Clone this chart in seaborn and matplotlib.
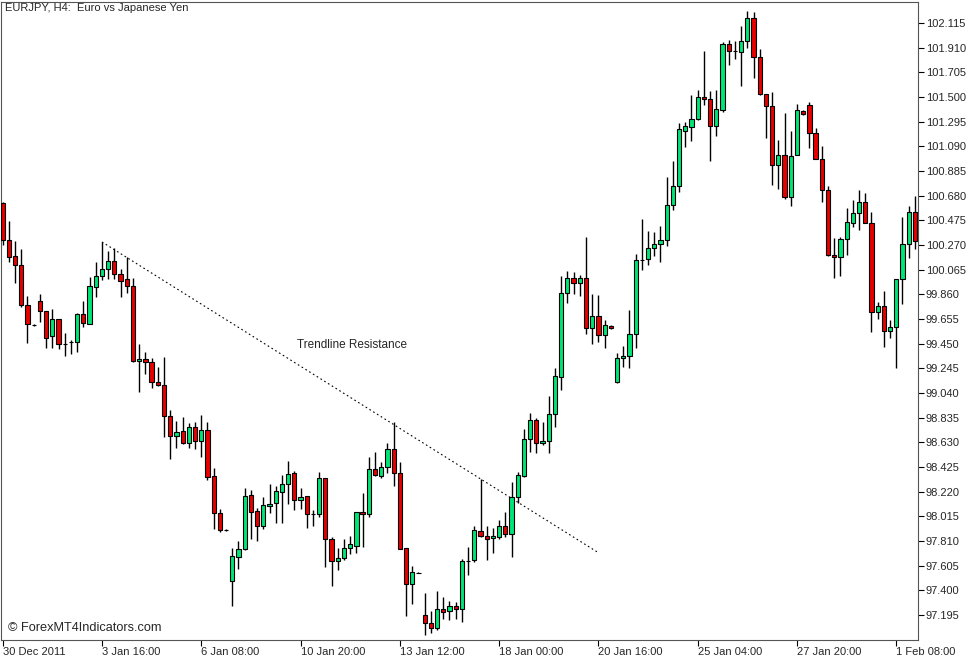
import numpy as np
import pandas as pd
import matplotlib
matplotlib.use('Agg')
import matplotlib.pyplot as plt
import seaborn as sns

# EURJPY H4 candles, 30 Dec 2011 -> 1 Feb 2012
opens = [100.619, 100.312, 100.179, 100.104, 99.771, 99.605, 99.805, 99.722, 99.515, 99.655,
         99.451, 99.460, 99.465, 99.697, 99.614, 99.921, 100.013, 100.071, 100.138, 100.030,
         99.988, 99.930, 99.309, 99.323, 99.298, 99.132, 99.107, 98.849, 98.683, 98.724,
         98.625, 98.758, 98.641, 98.733, 98.350, 98.043, 97.904, 97.478, 97.677, 97.744,
         98.192, 98.059, 97.934, 98.100, 98.125, 98.217, 98.283, 98.374, 98.150, 98.184,
         98.031, 98.034, 98.333, 97.827, 97.644, 97.669, 97.752, 97.769, 98.051, 98.034,
         98.408, 98.350, 98.425, 98.575, 98.375, 97.752, 97.453, 97.546, 97.195, 97.129,
         97.087, 97.245, 97.228, 97.270, 97.245, 97.646, 97.652, 97.893, 97.851, 97.835,
         97.843, 97.934, 97.868, 98.176, 98.350, 98.658, 98.816, 98.625, 98.641, 98.865,
         99.173, 99.871, 99.996, 99.954, 99.996, 99.581, 99.680, 99.522, 99.597, 99.131,
         99.331, 99.348, 99.531, 100.145, 100.154, 100.245, 100.278, 100.311, 100.602, 100.760,
         101.217, 101.251, 101.317, 101.500, 101.483, 101.259, 101.392, 101.940, 101.882, 101.874,
         101.965, 102.156, 101.832, 101.525, 101.425, 100.935, 101.018, 100.669, 101.018, 101.383,
         101.433, 101.201, 100.985, 100.727, 100.187, 100.170, 100.320, 100.453, 100.536, 100.627,
         100.453, 99.713, 99.763, 99.555, 99.589, 99.987, 100.278, 100.544]
highs = [100.630, 100.469, 100.303, 100.237, 99.846, 99.614, 99.863, 99.722, 99.738, 99.655,
         99.539, 99.476, 99.705, 99.805, 100.004, 100.129, 100.295, 100.221, 100.246, 100.071,
         100.171, 99.996, 99.448, 99.381, 99.332, 99.257, 99.340, 98.899, 98.808, 98.841,
         98.791, 98.800, 98.857, 98.800, 98.417, 98.076, 97.910, 97.752, 97.810, 98.251,
         98.234, 98.084, 98.175, 98.283, 98.267, 98.358, 98.474, 98.391, 98.250, 98.184,
         98.070, 98.383, 98.333, 97.843, 97.752, 97.827, 97.851, 98.051, 98.209, 98.508,
         98.549, 98.466, 98.624, 98.799, 98.466, 97.752, 97.602, 97.552, 97.378, 97.228,
         97.394, 97.345, 97.311, 97.303, 97.660, 97.762, 97.934, 98.325, 97.934, 97.918,
         97.984, 98.051, 98.300, 98.383, 98.740, 98.873, 98.832, 98.799, 99.015, 99.248,
         100.012, 100.054, 100.046, 100.021, 100.337, 99.863, 99.854, 99.647, 99.605, 99.373,
         99.431, 99.730, 100.195, 100.486, 100.386, 100.378, 100.428, 100.835, 100.968, 101.284,
         101.292, 101.516, 101.558, 101.882, 101.550, 101.558, 101.957, 101.974, 101.965, 102.090,
         102.215, 102.206, 101.899, 101.525, 101.541, 101.142, 101.367, 101.217, 101.442, 101.392,
         101.458, 101.242, 101.093, 100.760, 100.328, 100.337, 100.577, 100.644, 100.727, 100.702,
         100.544, 99.796, 99.888, 99.647, 99.987, 100.503, 100.594, 100.677]
lows = [100.270, 100.129, 99.954, 99.755, 99.456, 99.593, 99.630, 99.415, 99.415, 99.407,
        99.350, 99.364, 99.381, 99.589, 99.614, 99.838, 99.980, 99.988, 99.988, 99.838,
        99.871, 99.298, 99.049, 99.199, 99.082, 99.099, 98.675, 98.492, 98.583, 98.616,
        98.583, 98.575, 98.508, 98.317, 97.910, 97.885, 97.894, 97.270, 97.577, 97.735,
        97.827, 97.810, 97.910, 98.042, 97.959, 97.959, 98.117, 98.067, 98.075, 97.918,
        97.934, 98.009, 97.594, 97.435, 97.569, 97.652, 97.702, 97.710, 97.760, 98.009,
        98.350, 98.333, 98.375, 98.267, 97.744, 97.187, 97.286, 97.540, 97.029, 97.045,
        97.070, 97.162, 97.153, 97.162, 97.137, 97.527, 97.635, 97.843, 97.652, 97.710,
        97.826, 97.843, 97.677, 98.126, 98.342, 98.550, 98.541, 98.608, 98.541, 98.757,
        99.065, 99.788, 99.863, 99.846, 99.530, 99.448, 99.465, 99.415, 99.572, 99.123,
        99.257, 99.248, 99.414, 100.062, 100.104, 100.179, 100.129, 100.262, 100.561, 100.710,
        101.084, 101.134, 101.309, 101.433, 100.968, 101.176, 101.375, 101.766, 101.818, 101.591,
        101.907, 101.658, 101.517, 101.159, 100.769, 100.735, 100.652, 100.594, 101.018, 101.350,
        101.076, 100.985, 100.627, 100.178, 99.996, 100.012, 100.187, 100.420, 100.395, 100.453,
        99.547, 99.655, 99.422, 99.497, 99.248, 99.780, 100.162, 100.237]
closes = [100.312, 100.173, 100.104, 99.771, 99.614, 99.605, 99.722, 99.498, 99.655, 99.448,
          99.451, 99.460, 99.697, 99.622, 99.930, 100.013, 100.071, 100.138, 100.030, 99.971,
          99.930, 99.307, 99.323, 99.298, 99.132, 99.107, 98.849, 98.683, 98.716, 98.625,
          98.758, 98.641, 98.733, 98.342, 98.043, 97.902, 97.904, 97.686, 97.744, 98.184,
          98.051, 97.934, 98.109, 98.117, 98.225, 98.283, 98.366, 98.150, 98.175, 98.034,
          98.031, 98.333, 97.827, 97.644, 97.669, 97.752, 97.785, 98.051, 98.034, 98.408,
          98.358, 98.425, 98.575, 98.375, 97.744, 97.453, 97.552, 97.546, 97.129, 97.087,
          97.245, 97.220, 97.270, 97.245, 97.644, 97.646, 97.901, 97.851, 97.826, 97.851,
          97.934, 97.868, 98.176, 98.358, 98.658, 98.816, 98.625, 98.641, 98.865, 99.181,
          99.871, 99.996, 99.954, 99.996, 99.581, 99.680, 99.522, 99.605, 99.581, 99.331,
          99.348, 99.531, 100.145, 100.145, 100.245, 100.278, 100.311, 100.602, 100.760, 101.234,
          101.259, 101.317, 101.500, 101.483, 101.259, 101.400, 101.940, 101.882, 101.882, 101.965,
          102.156, 101.832, 101.525, 101.425, 100.935, 101.018, 100.669, 101.010, 101.392, 101.359,
          101.201, 100.985, 100.727, 100.187, 100.170, 100.320, 100.461, 100.536, 100.627, 100.453,
          99.713, 99.763, 99.555, 99.589, 99.987, 100.278, 100.544, 100.303]

time_labels = ["30 Dec 2011", "3 Jan 16:00", "6 Jan 08:00", "10 Jan 20:00", "13 Jan 12:00",
               "18 Jan 00:00", "20 Jan 16:00", "25 Jan 04:00", "27 Jan 20:00", "1 Feb 08:00"]
label_step = 16  # one time label every 16 bars

price_ticks = [97.195, 97.400, 97.605, 97.810, 98.015, 98.220, 98.425, 98.630, 98.835,
               99.040, 99.245, 99.450, 99.655, 99.860, 100.065, 100.270, 100.475, 100.680,
               100.885, 101.090, 101.295, 101.500, 101.705, 101.910, 102.115]

# trendline from the 3 Jan high down to 20 Jan
trend_bars = [16, 95.8]
trend_prices = [100.295, 97.719]

bull_color = "#00E676"
bear_color = "#E60000"

df = pd.DataFrame({"open": opens, "high": highs, "low": lows, "close": closes})
df["bar"] = np.arange(len(df))
df["up"] = df["close"] >= df["open"]

sns.set_style("white")
plt.rcParams['font.family'] = ['Liberation Sans', 'DejaVu Sans']

W, H = 977, 658
fig = plt.figure(figsize=(W / 100, H / 100), dpi=100)
ax = fig.add_axes([1 / W, 18 / H, 917 / W, 638 / H])

# wicks
ax.vlines(df["bar"], df["low"], df["high"], color="black", linewidth=1, zorder=2)

# bodies
bottoms = np.minimum(df["open"], df["close"])
heights = (df["close"] - df["open"]).abs()
ax.bar(df["bar"], heights, bottom=bottoms, width=0.68,
       color=np.where(df["up"], bull_color, bear_color),
       edgecolor="black", linewidth=0.8, zorder=3)

# trendline
ax.plot(trend_bars, trend_prices, color="black", linewidth=0.8,
        linestyle=(0, (1.5, 2.5)), zorder=1)
ax.text(56.3, 99.44, "Trendline Resistance", fontsize=8.5, ha="center", va="center")

ax.set_xlim(-0.27, 147.5)
ax.set_ylim(96.987, 102.289)

ax.set_xticks(np.arange(len(time_labels)) * label_step)
ax.set_xticklabels(time_labels, ha="left")
ax.yaxis.tick_right()
ax.set_yticks(price_ticks)
ax.set_yticklabels([f"{p:.3f}" for p in price_ticks])
ax.tick_params(axis="both", direction="out", length=4, width=0.8, color="black",
               labelsize=8, bottom=True, right=True, left=False)
ax.tick_params(axis="x", pad=1)
ax.tick_params(axis="y", pad=1.5)

for s in ax.spines.values():
    s.set_color("#555555")
    s.set_linewidth(0.8)

fig.text(5 / W, 1 - 8 / H, "EURJPY, H4:  Euro vs Japanese Yen", fontsize=8, va="center")
fig.text(8 / W, 1 - 628 / H, "\u00a9 ForexMT4Indicators.com", fontsize=9.2, va="center")

fig.savefig("out.png", dpi=100)
